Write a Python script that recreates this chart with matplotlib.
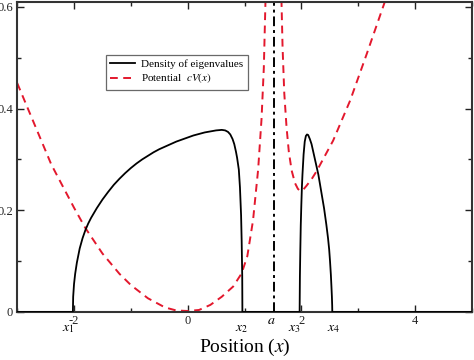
import matplotlib
matplotlib.use("Agg")
import matplotlib.pyplot as plt
from matplotlib.ticker import MultipleLocator, FixedLocator

plt.rcParams['font.family'] = ['Liberation Serif', 'DejaVu Serif']
plt.rcParams['mathtext.fontset'] = 'stix'
plt.rcParams['axes.unicode_minus'] = False

# Density of eigenvalues
dens_x = [-3.0, -2.02, -2.015, -2.0, -1.98, -1.95, -1.9, -1.85, -1.8, -1.75, -1.7, -1.6, -1.5,
          -1.4, -1.3, -1.2, -1.1, -1.0, -0.9, -0.8, -0.7, -0.6, -0.5, -0.4, -0.3, -0.2, -0.1,
          0.0, 0.1, 0.2, 0.3, 0.4, 0.5, 0.6, 0.66, 0.71, 0.75, 0.79, 0.82, 0.85, 0.87, 0.9,
          0.92, 0.94, 0.95, 0.96, 0.963,
          1.97, 1.975, 1.982, 1.99, 2.0, 2.01, 2.02, 2.04, 2.06, 2.08, 2.10, 2.12, 2.15, 2.18,
          2.22, 2.26, 2.30, 2.35, 2.40, 2.44, 2.47, 2.49, 2.505, 2.52, 2.53, 2.538, 2.543, 2.545, 5.0]
dens_y = [0.0, 0.0, 0.03, 0.055, 0.075, 0.097, 0.125, 0.145, 0.161, 0.174, 0.185, 0.204, 0.221,
          0.236, 0.25, 0.262, 0.273, 0.283, 0.292, 0.300, 0.307, 0.314, 0.32, 0.325, 0.330, 0.335, 0.339,
          0.343, 0.347, 0.350, 0.353, 0.355, 0.357, 0.358, 0.357, 0.354, 0.349, 0.340, 0.330, 0.315, 0.303, 0.28,
          0.245, 0.19, 0.14, 0.07, 0.0,
          0.0, 0.07, 0.12, 0.17, 0.21, 0.245, 0.27, 0.31, 0.335, 0.346, 0.349, 0.348, 0.34, 0.33,
          0.31, 0.29, 0.27, 0.237, 0.204, 0.172, 0.145, 0.123, 0.1, 0.073, 0.05, 0.03, 0.013, 0.0, 0.0]

# Potential cV(x), left branch (x < a) and right branch (x > a)
pot_left_x = [-3.0, -2.7, -2.4, -2.0, -1.8, -1.5, -1.2, -1.0, -0.7, -0.4, -0.2, 0.0, 0.2,
              0.4, 0.6, 0.8, 0.95, 1.05, 1.15, 1.24, 1.30, 1.34, 1.37]
pot_left_y = [0.45, 0.37, 0.29, 0.205, 0.165, 0.115, 0.075, 0.053, 0.027, 0.009, 0.003, 0.002, 0.004,
              0.014, 0.03, 0.05, 0.076, 0.11, 0.18, 0.28, 0.38, 0.48, 0.615]
pot_right_x = [1.65, 1.67, 1.70, 1.74, 1.78, 1.83, 1.89, 1.94, 1.98, 2.03, 2.09, 2.18, 2.27,
               2.56, 2.86, 3.15, 3.47]
pot_right_y = [0.615, 0.52, 0.43, 0.363, 0.315, 0.278, 0.253, 0.242, 0.238, 0.240, 0.248, 0.261, 0.277,
               0.337, 0.416, 0.507, 0.61]

a_pos = 1.52
xtick_vals = [-2, 0, 2, 4]
ytick_vals = [0, 0.2, 0.4, 0.6]
ytick_labels = ['0', '0.2', '0.4', '0.6']
marker_labels = [r'$x_1$', r'$x_2$', r'$x_3$', r'$x_4$']
marker_pos = [-2.1, 0.95, 1.87, 2.56]

fig = plt.figure(figsize=(4.74, 3.6), dpi=100)
ax = fig.add_axes([17.2/474, 48/360, (471.8-17.2)/474, (312-1.7)/360])

ax.plot(dens_x, dens_y, color='black', lw=1.3, label='Density of eigenvalues', zorder=3)
ax.plot(pot_left_x, pot_left_y, color='#e3182d', lw=1.4, dashes=(4, 2.8),
        label=r'Potential  $cV(x)$', zorder=2)
ax.plot(pot_right_x, pot_right_y, color='#e3182d', lw=1.4, dashes=(4, 2.8), zorder=2)
ax.axvline(a_pos, color='black', lw=1.4, dashes=(5, 2, 1.5, 2), zorder=2)

ax.set_xlim(-3, 5)
ax.set_ylim(0, 0.61)
ax.xaxis.set_major_locator(FixedLocator(xtick_vals))
ax.xaxis.set_minor_locator(MultipleLocator(1))
ax.yaxis.set_major_locator(FixedLocator(ytick_vals))
ax.yaxis.set_minor_locator(MultipleLocator(0.1))
ax.set_yticklabels(ytick_labels)
ax.set_xticklabels([str(v) for v in xtick_vals])
ax.tick_params(which='both', direction='in', top=True, right=True, labelsize=9, colors='#222222')
ax.tick_params(which='major', length=5, width=1, pad=3)
ax.tick_params(which='minor', length=3, width=1)
ax.tick_params(axis='x', which='major', pad=2)
for s in ax.spines.values():
    s.set_linewidth(1.5)
    s.set_color('#333333')

for lab, xp in zip(marker_labels, marker_pos):
    ax.text(xp, -0.033, lab, ha='center', va='center', fontsize=10, clip_on=False)
ax.text(a_pos - 0.04, -0.017, r'$a$', ha='center', va='center', fontsize=10, clip_on=False)

ax.set_xlabel(r'Position ($x$)', fontsize=14, labelpad=7)

leg = ax.legend(loc='upper left', bbox_to_anchor=(0.195, 0.828), fontsize=8.0, frameon=True,
                fancybox=False, edgecolor='#444444', handlelength=2.2, borderpad=0.4,
                labelspacing=0.2, handletextpad=0.6, borderaxespad=0)
leg.get_frame().set_linewidth(0.9)

fig.savefig('out.png', dpi=100)
